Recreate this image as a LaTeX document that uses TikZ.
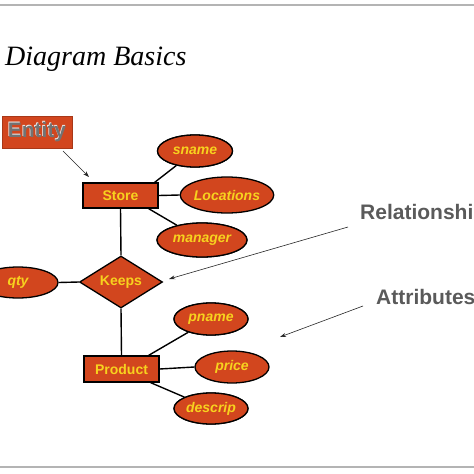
\documentclass[tikz,border=0pt]{standalone}
\usepackage{fontspec}
\setmainfont{Liberation Serif}
\setsansfont{Liberation Sans}
\usetikzlibrary{shapes.geometric,arrows.meta}
\definecolor{erfill}{HTML}{D2461E}
\definecolor{ertext}{HTML}{F7D21E}
\definecolor{lblgray}{HTML}{5A5A5A}
\definecolor{rulegray}{HTML}{B4B4B4}
\tikzset{
  ent/.style={draw=black, line width=1.3pt, fill=erfill, rectangle, inner sep=0pt,
    font=\sffamily\bfseries\fontsize{14}{14}\selectfont, text=ertext},
  attr/.style={draw=black, line width=1.3pt, fill=erfill, ellipse, inner sep=0pt,
    font=\sffamily\bfseries\itshape\fontsize{14}{14}\selectfont, text=ertext},
  rel/.style={draw=black, line width=1.3pt, fill=erfill, diamond, inner sep=0pt, aspect=1.6,
    font=\sffamily\bfseries\fontsize{14}{14}\selectfont, text=ertext},
  conn/.style={line width=1.4pt, draw=black},
  callout/.style={line width=0.6pt, draw=black!85, -{Stealth[length=6pt,width=4pt]}},
  lbl/.style={font=\sffamily\bfseries\fontsize{21}{21}\selectfont, text=lblgray, inner sep=0pt, anchor=base west},
}
\begin{document}
\begin{tikzpicture}[x=1pt,y=-1pt]
\useasboundingbox (0,0) rectangle (474,474);
\clip (0,0) rectangle (474,474);
% rules
\draw[rulegray, line width=1.5pt] (0,5) -- (474,5);
\draw[rulegray, line width=1.5pt] (0,467) -- (474,467);
% title
\node[font=\itshape\fontsize{28}{28}\selectfont, anchor=base west, inner sep=0pt] (title) at (5,65) {Diagram Basics};
% Entity label box
\node[fill=erfill, draw=erfill!80!black, line width=0.5pt, minimum width=70pt, minimum height=32pt, inner sep=0pt] (entity) at (37,132) {};
\node[font=\sffamily\bfseries\fontsize{21}{21}\selectfont, text=white!85!gray, inner sep=0pt] (entityshadow) at (36.3,131.3) {Entity};
\node[font=\sffamily\bfseries\fontsize{21}{21}\selectfont, text=gray!90!black, inner sep=0pt] (entitytext) at (37,132) {Entity};
% connectors (drawn first, nodes on top)
\coordinate (storeC) at (120.5,195.5);
\coordinate (keepsC) at (121,282);
\coordinate (prodC) at (121.5,369);
\node[ent, minimum width=75pt, minimum height=25pt] (store) at (storeC) {Store};
\node[attr, minimum width=75pt, minimum height=32pt] (sname) at (195,151) {sname};
\node[attr, minimum width=85pt, minimum height=36pt] (loc) at (227,195) {Locations};
\node[attr, minimum width=90pt, minimum height=34pt] (manager) at (202,240) {manager};
\node[rel, minimum width=83pt, minimum height=52pt] (keeps) at (keepsC) {Keeps};
\node[attr, minimum width=80pt, minimum height=31pt] (qty) at (18,282.5) {qty};
\node[ent, minimum width=75pt, minimum height=26pt] (product) at (prodC) {Product};
\node[attr, minimum width=74pt, minimum height=32pt] (pname) at (211,319) {pname};
\node[attr, minimum width=74pt, minimum height=32pt] (price) at (232,367) {price};
\node[attr, minimum width=74pt, minimum height=31pt] (descrip) at (211,408.5) {descrip};
\draw[conn] (store.north east) ++(-4,0) coordinate (s1) -- (sname);
\draw[conn] (store.east) -- (loc.west);
\draw[conn] (store.south east) ++(-10,0) coordinate (s2) -- (manager);
\draw[conn] (store.south) -- (keeps.north);
\draw[conn] (qty.east) -- (keeps.west);
\draw[conn] (keeps.south) -- (product.north);
\draw[conn] (product.north east) ++(-11,0) coordinate (p1) -- (pname);
\draw[conn] (product.east) -- (price.west);
\draw[conn] (product.south east) ++(-9,0) coordinate (p2) -- (descrip);
% redraw nodes over connector ends
\node[ent, minimum width=75pt, minimum height=25pt] at (storeC) {Store};
\node[attr, minimum width=75pt, minimum height=32pt] at (195,151) {sname};
\node[attr, minimum width=90pt, minimum height=34pt] at (202,240) {manager};
\node[ent, minimum width=75pt, minimum height=26pt] at (prodC) {Product};
\node[attr, minimum width=74pt, minimum height=32pt] at (211,319) {pname};
\node[attr, minimum width=74pt, minimum height=31pt] at (211,408.5) {descrip};
% labels
\node[lbl] (relat) at (360,219) {Relationshi};
\node[lbl] (attrs) at (376,304) {Attributes};
\coordinate (ea) at (63,151);
\coordinate (eb) at (89,177);
\draw[callout] (ea) -- (eb);
\coordinate (ra) at (348,227);
\coordinate (rb) at (169,279);
\draw[callout] (ra) -- (rb);
\coordinate (aa) at (363,306);
\coordinate (ab) at (280,337);
\draw[callout] (aa) -- (ab);
\end{tikzpicture}
\end{document}
